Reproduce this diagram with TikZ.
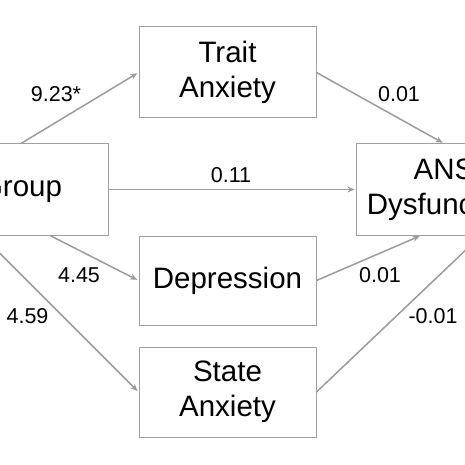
\documentclass[tikz,border=0pt]{standalone}
\usepackage{fontspec}
\setmainfont{Liberation Sans}
\usetikzlibrary{arrows.meta}
\definecolor{boxgray}{HTML}{A0A0A0}
\definecolor{arrgray}{HTML}{9C9C9C}
\begin{document}
\begin{tikzpicture}[x=1pt,y=-1pt,
  varbox/.style={draw=boxgray, line width=1pt, minimum width=177pt, minimum height=91pt,
    align=center, inner sep=0pt, font=\fontsize{29.5}{35}\selectfont},
  path/.style={draw=arrgray, line width=1.5pt, -{Stealth[length=7pt,width=6pt]}, shorten >=1.5pt},
  lab/.style={anchor=base, inner sep=0pt, font=\fontsize{21.5}{24}\selectfont}]
\useasboundingbox (0,0) rectangle (465,465);
\fill[white] (0,0) rectangle (465,465);
\node[varbox] (T) at (227.5,72.5) {Trait\\Anxiety};
\node[varbox, minimum height=89pt] (D) at (227.5,280.5) {Depression};
\node[varbox, minimum height=90pt] (S) at (227.5,392) {State\\Anxiety};
\node[varbox, minimum width=174pt] (G) at (21,189.5) {Group};
\node[varbox, minimum width=175pt] (A) at (444,189.5) {ANS\\Dysfunction};
\draw[path] (G.north) -- (T.west);
\draw[path] (T.east) -- (A.north);
\draw[path] (G.east) -- (A.west);
\draw[path] ([xshift=29pt]G.south) -- (D.west);
\draw[path] (D.east) -- ([xshift=-23pt]A.south);
\draw[path] ([xshift=-39pt]G.south) -- (S.west);
\draw[path] (S.east) -- ([xshift=37pt]A.south);
\node[lab] (l1) at (56,102) {9.23*};
\node[lab] (l2) at (399,102) {0.01};
\node[lab] (l3) at (231,182) {0.11};
\node[lab] (l4) at (79,282) {4.45};
\node[lab] (l5) at (380,282) {0.01};
\node[lab] (l6) at (27.5,323) {4.59};
\node[lab] (l7) at (433,323) {-0.01};
\end{tikzpicture}
\end{document}
